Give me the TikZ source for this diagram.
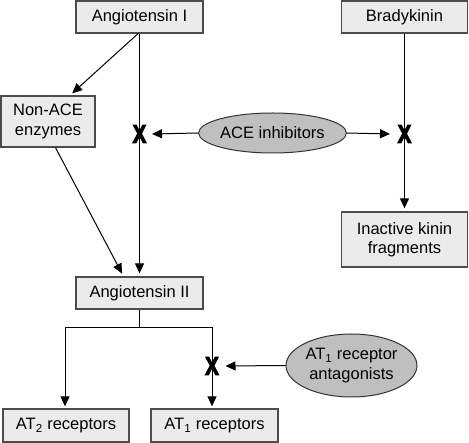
\documentclass[tikz,border=0pt]{standalone}
\usepackage{fontspec}
\setmainfont{Liberation Sans}
\newfontfamily\xmarkfont{Liberation Sans}[UprightFont=* Bold,FakeBold=4]
\usetikzlibrary{arrows.meta,shapes.geometric,calc}
\begin{document}
\begin{tikzpicture}[x=1pt,y=-1pt,
  box/.style={draw=black!70,line width=1.3pt,fill=black!8,inner sep=0pt,align=center,
    font=\fontsize{16.5}{19.5}\selectfont},
  oval/.style={ellipse,draw=black!80,line width=1pt,fill=black!25,inner sep=0pt,align=center,
    font=\fontsize{16.5}{19.5}\selectfont},
  xmark/.style={inner sep=0pt,font=\xmarkfont\fontsize{26}{26}\selectfont,xscale=0.8},
  conn/.style={line width=1pt,black},
  arr/.style={conn,-{Triangle[length=10pt,width=9pt]}}]
\useasboundingbox (0,0) rectangle (469,443);
% boxes
\node[box,minimum width=127pt,minimum height=32pt] (A1) at (139.5,17) {Angiotensin I};
\node[box,minimum width=126pt,minimum height=32pt] (BK) at (404.5,17) {Bradykinin};
\node[box,minimum width=94pt,minimum height=51pt] (NA) at (48,121.5) {Non-ACE\\enzymes};
\node[box,minimum width=126pt,minimum height=55pt] (IK) at (404.5,239.5) {Inactive kinin\\fragments};
\node[box,minimum width=127pt,minimum height=32pt] (A2) at (139.5,293) {Angiotensin II};
\node[box,minimum width=126pt,minimum height=33pt] (AT2) at (66,425.5) {AT\textsubscript{2} receptors};
\node[box,minimum width=127pt,minimum height=33pt] (AT1) at (214.5,425.5) {AT\textsubscript{1} receptors};
% ellipses
\node[oval,minimum width=121pt,minimum height=40pt] (ACE) at (272.5,133) {ACE inhibitors};
\node[oval,minimum width=131pt,minimum height=63pt] (ARB) at (351.5,365.5) {AT\textsubscript{1} receptor\\antagonists};
% connectors
\coordinate (sp) at (139.5,328);
\draw[arr,shorten >=3pt] ($(A1.south)+(-1.5,0)$) -- ($(NA.north)+(22,0)$);
\draw[arr,shorten >=3pt] (A1.south) -- (A2.north);
\draw[arr,shorten >=3pt] ($(NA.south)+(7.5,0)$) -- ($(A2.north)+(-16,0)$);
\draw[arr,shorten >=3pt] (BK.south) -- (IK.north);
\draw[conn] (A2.south) -- (sp);
\draw[arr,shorten >=2pt] (sp) -| ($(AT2.north)+(-1,0)$);
\draw[arr,shorten >=2pt] (sp) -| ($(AT1.north)+(-2.5,0)$);
% X marks
\node[xmark] (X1) at (139.5,134) {X};
\node[xmark] (X2) at (404.5,134) {X};
\node[xmark] (X3) at (212,366) {X};
\draw[arr] (ACE.west) -- ($(X1.center)+(12.5,0)$);
\draw[arr] (ACE.east) -- ($(X2.center)+(-14.5,0)$);
\draw[arr] (ARB.west) -- ($(X3.center)+(13.5,0)$);
\end{tikzpicture}
\end{document}
